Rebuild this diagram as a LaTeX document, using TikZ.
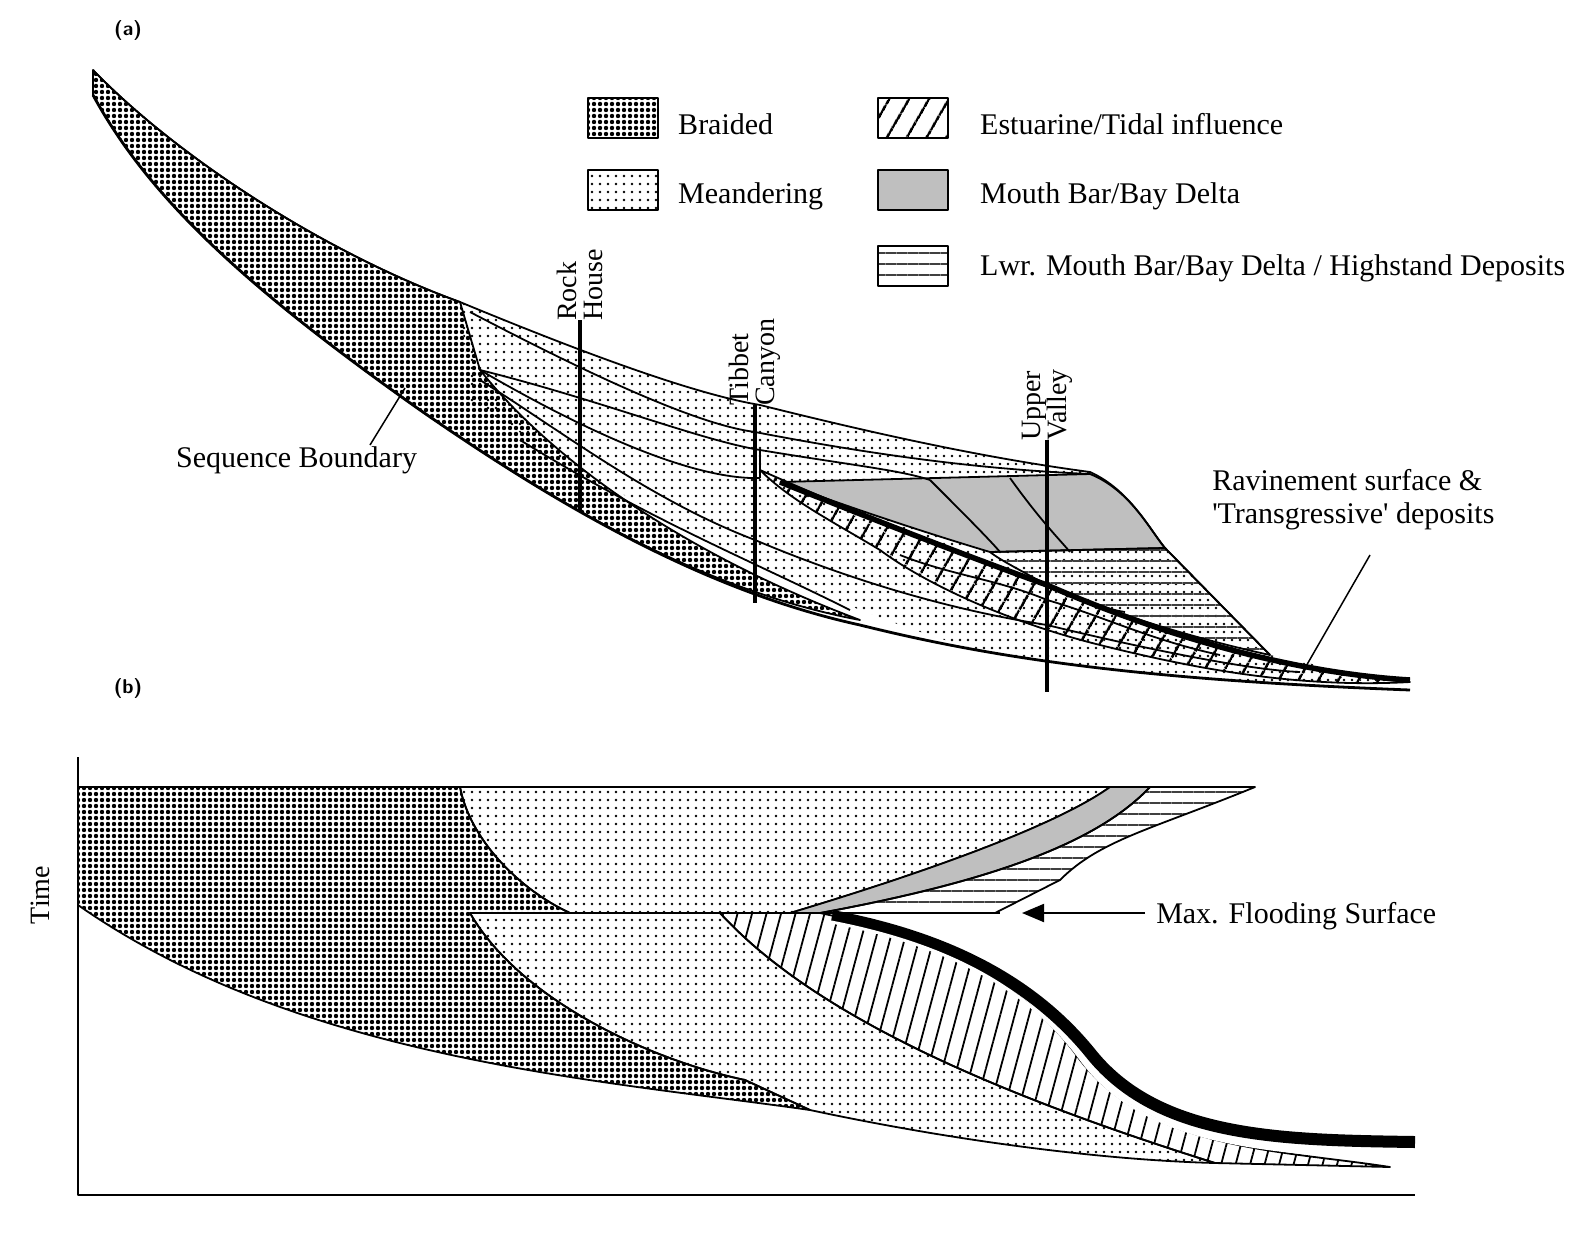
\documentclass[tikz,border=0pt]{standalone}
\usepackage{fontspec}
\setmainfont{Liberation Serif}
\usetikzlibrary{patterns.meta,arrows.meta}
\tikzset{
 braid/.style={pattern={Dots[distance=6pt,radius=2.2pt]}},
 meand/.style={pattern={Dots[distance=8pt,radius=1.3pt]}},
 estu/.style={pattern={Lines[angle=60,distance=17pt,line width=2.6pt]}},
 estub/.style={pattern={Lines[angle=75,distance=14pt,line width=1.8pt]}},
 mouth/.style={fill=black!25},
 lwr/.style={pattern={Lines[angle=0,distance=11pt,line width=1.8pt]},pattern color=black!75},
 lbl/.style={font=\fontsize{30}{33}\selectfont,anchor=west},
 well/.style={line width=4.5pt},
}
\begin{document}
\begin{tikzpicture}[x=1pt,y=-1pt,line width=1.8pt,line join=round]
\useasboundingbox (0,0) rectangle (1578,1232);
\node[font=\sffamily\bfseries\fontsize{20}{22}\selectfont] (la) at (128,30) {(a)};
\node[font=\sffamily\bfseries\fontsize{20}{22}\selectfont] (lb) at (128,688) {(b)};
% ---------- legend
\node[draw,braid,minimum width=70pt,minimum height=40pt] (k1) at (623,118) {};
\node[draw,meand,minimum width=70pt,minimum height=40pt] (k2) at (623,190) {};
\node[draw,estu,minimum width=70pt,minimum height=40pt] (k3) at (913,118) {};
\node[draw,mouth,minimum width=70pt,minimum height=40pt] (k4) at (913,190) {};
\node[draw,lwr,minimum width=70pt,minimum height=40pt] (k5) at (913,266) {};
\node[lbl] at (674,124) {Braided};
\node[lbl] at (674,196) {Meandering};
\node[lbl] at (976,124) {Estuarine/Tidal influence};
\node[lbl] at (976,196) {Mouth Bar/Bay Delta};
\node[lbl] at (976,268) {Lwr. Mouth Bar/Bay Delta / Highstand Deposits};
% ---------- (a)
\path[meand] (460,302) .. controls (600,360) and (700,395) .. (760,405) .. controls (900,440) and (1000,460) .. (1090,472)
  .. controls (1130,490) and (1150,530) .. (1165,548) -- (1270,655) -- (1410,685)
  .. controls (1300,690) and (1150,675) .. (1000,655) .. controls (850,620) and (650,520) .. (470,400) -- cycle;
\path[braid,draw] (93,70) .. controls (180,160) and (330,255) .. (460,302) -- (480,370)
  .. controls (560,470) and (700,560) .. (860,620) .. controls (700,590) and (550,500) .. (420,410)
  .. controls (250,290) and (150,200) .. (93,95) -- cycle;
\path[mouth,draw] (780,482) -- (1090,474) .. controls (1130,490) and (1150,530) .. (1165,548) -- (990,552)
  .. controls (900,525) and (830,500) .. (780,482);
\draw (930,480) .. controls (960,510) and (990,540) .. (1000,552);
\draw (1010,478) .. controls (1040,520) and (1060,540) .. (1070,552);
\path[lwr,draw] (990,552) -- (1165,548) -- (1270,655) .. controls (1200,640) and (1100,610) .. (1047,585) .. controls (1020,570) and (1000,560) .. (990,552);
\draw (1047,585) .. controls (1080,600) and (1110,610) .. (1125,612);
\path[estu,draw] (760,470) .. controls (850,510) and (950,550) .. (1047,585) .. controls (1150,630) and (1280,670) .. (1410,682)
  .. controls (1300,688) and (1200,670) .. (1100,645) .. controls (1000,620) and (920,580) .. (880,550) .. controls (830,520) and (790,500) .. (760,470);
\draw (900,555) .. controls (950,575) and (1000,580) .. (1047,600) .. controls (1100,615) and (1150,640) .. (1220,655);
\draw (470,312) .. controls (600,380) and (700,425) .. (755,432) .. controls (900,460) and (1000,470) .. (1090,474);
\draw (480,370) .. controls (600,400) and (700,440) .. (760,450) .. controls (850,465) and (900,470) .. (930,480);
\draw (760,450) -- (760,478);
\draw (480,370) .. controls (600,440) and (700,480) .. (760,478);
\draw (480,380) .. controls (560,430) and (650,500) .. (755,540) .. controls (850,580) and (950,610) .. (1047,625) .. controls (1150,650) and (1250,670) .. (1300,672);
\draw (520,440) .. controls (650,520) and (750,560) .. (850,610);
\draw (93,70) .. controls (180,160) and (330,255) .. (460,302) .. controls (600,360) and (700,395) .. (760,405) .. controls (900,440) and (1000,460) .. (1090,472)
  .. controls (1130,490) and (1150,530) .. (1165,548) -- (1270,655);
\draw[line width=2.8pt] (93,95) .. controls (150,200) and (250,290) .. (420,410) .. controls (550,500) and (700,590) .. (860,625) .. controls (1000,660) and (1150,680) .. (1410,690);
\draw[line width=5.5pt] (780,482) .. controls (850,510) and (950,550) .. (1047,585) .. controls (1150,630) and (1280,672) .. (1410,680);
\draw[well] (580,320) coordinate (rh) -- (580,512);
\draw[well] (755,405) coordinate (tc) -- (755,603);
\draw[well] (1047,440) coordinate (uv) -- (1047,692);
\node[rotate=90,anchor=west,align=left,font=\fontsize{28}{26}\selectfont] at ([yshift=-5pt]rh) {Rock\\House};
\node[rotate=90,anchor=west,align=left,font=\fontsize{28}{26}\selectfont] at ([yshift=-5pt]tc) {Tibbet\\Canyon};
\node[rotate=90,anchor=west,align=left,font=\fontsize{28}{26}\selectfont] at ([yshift=-5pt]uv) {Upper\\Valley};
\node[lbl] (sb) at (172,460) {Sequence Boundary};
\coordinate (sbp) at (405,388);
\draw[line width=1.5pt] (370,445) -- (sbp);
\node[lbl,align=left] (rs) at (1208,500) {Ravinement surface \&\\\textquotesingle Transgressive\textquotesingle{} deposits};
\coordinate (rsp) at (1305,668);
\draw[line width=1.5pt] (1370,555) -- (rsp);
% ---------- (b)
\draw[line width=2pt] (78,757) -- (78,1195) -- (1415,1195);
\node[rotate=90,font=\fontsize{28}{30}\selectfont] (time) at (40,895) {Time};
\path[braid,draw] (78,787) -- (460,787) .. controls (470,840) and (520,890) .. (570,913) -- (470,913)
  .. controls (520,1000) and (650,1060) .. (745,1080) -- (810,1110) .. controls (600,1080) and (300,1060) .. (78,905) -- cycle;
\path[meand,draw] (460,787) -- (1110,787) .. controls (1050,830) and (900,880) .. (790,913) -- (570,913) .. controls (520,890) and (470,840) .. (460,787);
\path[mouth,draw] (1110,787) -- (1150,787) .. controls (1100,840) and (1000,880) .. (820,913) -- (790,913) .. controls (900,880) and (1050,830) .. (1110,787);
\path[lwr,draw] (1150,787) -- (1255,787) .. controls (1150,830) and (1100,840) .. (1060,880) -- (995,913) -- (820,913) .. controls (1000,880) and (1100,840) .. (1150,787);
\path[meand,draw] (470,913) -- (720,913) .. controls (800,1000) and (950,1080) .. (1215,1163)
  .. controls (1100,1160) and (950,1140) .. (810,1110) -- (745,1080) .. controls (650,1060) and (520,1000) .. (470,913);
\path[estub,draw] (720,913) -- (820,913) .. controls (950,940) and (1030,990) .. (1080,1060) .. controls (1150,1150) and (1280,1150) .. (1390,1167)
  -- (1215,1163) .. controls (950,1080) and (800,1000) .. (720,913);
\draw[line width=12pt] (832,916) .. controls (960,940) and (1040,990) .. (1092,1055) .. controls (1160,1138) and (1280,1140) .. (1415,1142);
\draw[white,line width=3pt] (826,921) .. controls (955,945) and (1033,993) .. (1083,1062) .. controls (1150,1150) and (1280,1149) .. (1380,1160);
\draw[line width=2pt] (470,913) -- (1000,913);
\node[lbl] (mfs) at (1152,916) {Max. Flooding Surface};
\coordinate (mfsp) at (1022,913);
\draw[line width=2pt,-{Triangle[length=22pt,width=18pt]}] (1145,913) -- (mfsp);
\end{tikzpicture}
\end{document}
